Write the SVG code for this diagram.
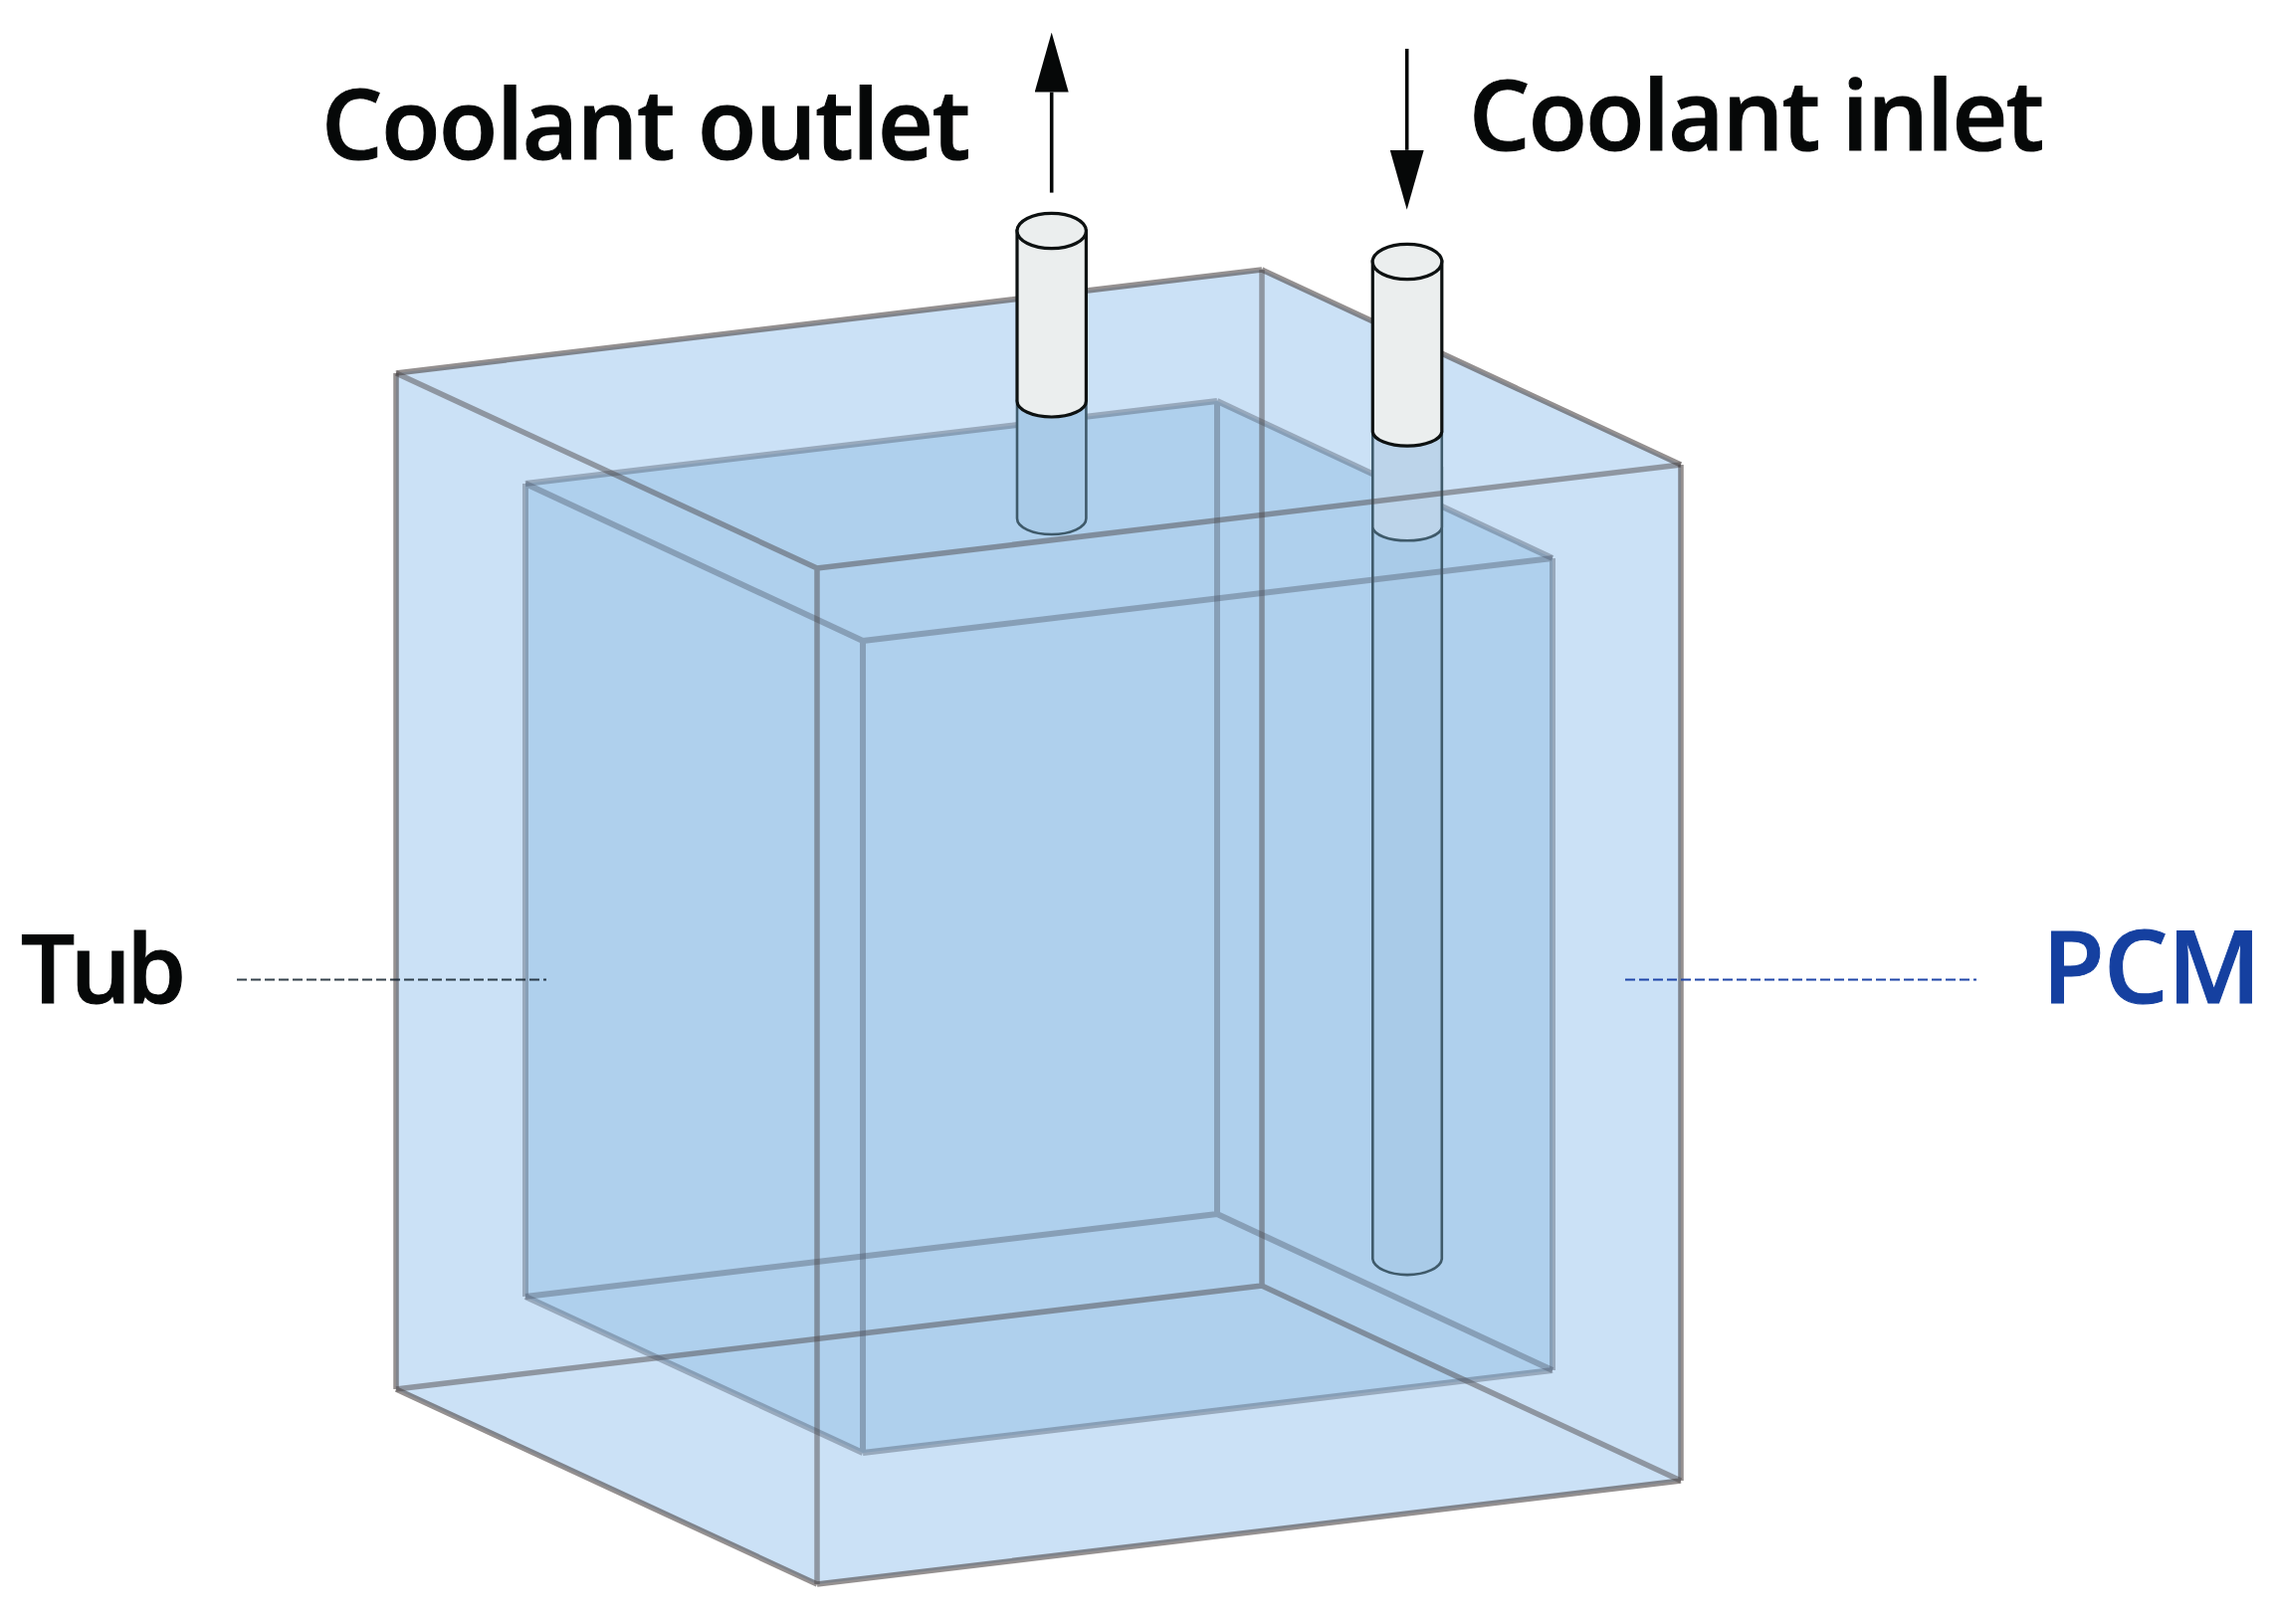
<svg xmlns="http://www.w3.org/2000/svg" width="2289" height="1632" viewBox="0 0 2289 1632">
<style>
text{font-family:"Open Sans","Noto Sans","Liberation Sans",sans-serif;font-weight:600;font-size:97px;fill:#060808;stroke:#060808;stroke-width:1}
.sil{fill:none;stroke:#4c4646;stroke-opacity:.6;stroke-width:5.5}
.edge{fill:none;stroke:#4c4646;stroke-opacity:.48;stroke-width:5.5}
.ie{fill:none;stroke:#4c5666;stroke-opacity:.4;stroke-width:6}
.white{fill:#ebeeee;stroke:#0d1111;stroke-width:3.2}
.low{fill:#a9cbe8;stroke:#3f5a6a;stroke-width:2.6}
.mid{fill:#bcd4ea;stroke:#3f5a6a;stroke-width:2.6}
.flow{fill:none;stroke:#060808;stroke-width:3.6}
</style>
<defs>
<marker id="head" markerUnits="userSpaceOnUse" viewBox="0 0 60 34" refX="0" refY="17" markerWidth="60" markerHeight="34" orient="auto"><path d="M0 0L60 17L0 34Z" fill="#060808"/></marker>
</defs>
<rect width="2289" height="1632" fill="#fff"/>
<g id="tub">
<path d="M398 375L1268 271L1689 467V1488L821 1592L398 1396Z" fill="#cbe1f6"/>
<g id="pcm">
<path d="M528 486L1223 403L1560 561V1377L867 1460L528 1303Z" fill="#afd0ed"/>
<path class="ie" d="M528 486L1223 403M1223 403V1220M1223 1220L528 1303M1223 1220L1560 1377M1223 403L1560 561"/>
</g>
<path class="edge" d="M1268 271V1292M1268 1292L398 1396M1268 1292L1689 1488"/>
<path class="sil" d="M398 375L1268 271M1268 271L1689 467"/>
</g>
<g id="pipe-outlet">
<path class="low" d="M1022 403V521A34.7 16 0 0 0 1091.4 521V403Z"/>
<path class="white" d="M1022 232V403A34.7 16 0 0 0 1091.4 403V232Z"/>
<ellipse class="white" cx="1056.7" cy="232" rx="34.7" ry="17.7"/>
</g>
<g id="pipe-inlet">
<path class="low" d="M1379.3 470V1265A34.8 17 0 0 0 1448.8 1265V470Z"/>
<path class="mid" d="M1379.3 434V530A34.8 14 0 0 0 1448.8 530V434Z"/>
<path class="white" d="M1379.3 263V434A34.8 15 0 0 0 1448.8 434V263Z"/>
<ellipse class="white" cx="1414" cy="263" rx="34.8" ry="17.7"/>
</g>
<g id="front-edges">
<path class="ie" d="M528 486V1303M528 486L867 644M528 1303L867 1460M867 644L1560 561M867 644V1460M867 1460L1560 1377M1560 561V1377"/>
<path class="edge" d="M398 375L821 571M821 571L1689 467M821 571V1592"/>
<path class="sil" d="M398 375V1396M398 1396L821 1592M821 1592L1689 1488M1689 467V1488"/>
</g>
<g id="connectors">
<line class="flow" x1="1056.7" y1="193.6" x2="1056.7" y2="92.6" marker-end="url(#head)"/>
<line class="flow" x1="1413.7" y1="49" x2="1413.7" y2="150.8" marker-end="url(#head)"/>
<line x1="238" y1="984.5" x2="549" y2="984.5" stroke="#10202c" stroke-opacity=".85" stroke-width="1.8" stroke-dasharray="10 4"/>
<line x1="1633" y1="984.5" x2="1986" y2="984.5" stroke="#1f45a8" stroke-width="1.8" stroke-dasharray="10 4"/>
</g>
<g id="label-outlet"><text x="323" y="160" textLength="652" lengthAdjust="spacing">Coolant outlet</text></g>
<g id="label-inlet"><text x="1476" y="151" textLength="578" lengthAdjust="spacing">Coolant inlet</text></g>
<g id="label-tub"><text x="21" y="1008" textLength="166" lengthAdjust="spacing" style="font-size:96px">Tub</text></g>
<g id="label-pcm"><text x="2052" y="1008" textLength="220" lengthAdjust="spacing" style="fill:#1540a0;stroke:#1540a0;font-size:102px">PCM</text></g>
</svg>
